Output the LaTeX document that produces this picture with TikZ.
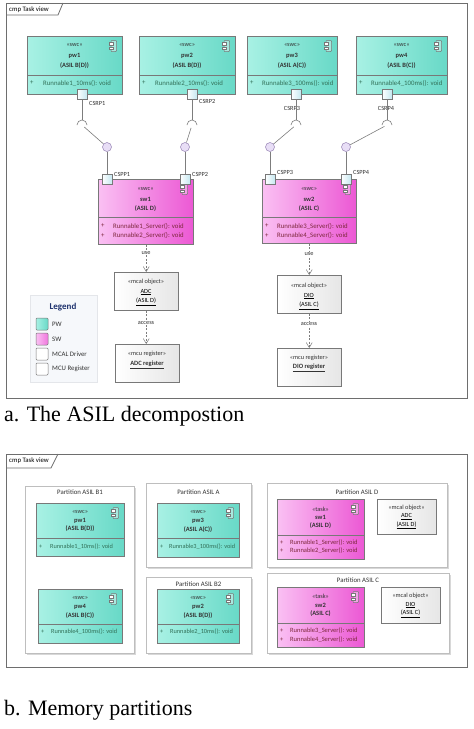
\documentclass[tikz,border=0pt]{standalone}
\usepackage{fontspec}
\setmainfont{Carlito}
\newfontfamily\capfont{Liberation Serif}
\usetikzlibrary{shadows,arrows.meta}

\definecolor{tealL}{RGB}{168,241,228}
\definecolor{tealR}{RGB}{104,217,199}
\definecolor{pinkL}{RGB}{250,192,243}
\definecolor{pinkR}{RGB}{236,88,212}
\definecolor{grayR}{RGB}{230,230,230}
\definecolor{bordergray}{RGB}{120,120,120}
\definecolor{framegray}{RGB}{110,110,110}
\definecolor{partgray}{RGB}{190,190,190}
\definecolor{wiregray}{RGB}{125,125,125}
\definecolor{portR}{RGB}{198,232,240}
\definecolor{ballfill}{RGB}{232,222,246}
\definecolor{ballborder}{RGB}{150,130,180}
\definecolor{tealtext}{RGB}{50,112,88}
\definecolor{pinktext}{RGB}{125,40,60}
\definecolor{legendfill}{RGB}{246,248,251}
\definecolor{legendborder}{RGB}{228,230,234}
\definecolor{legendblue}{RGB}{30,50,110}
\definecolor{txtgray}{RGB}{50,50,50}

\tikzset{
  myshadow/.style={drop shadow={shadow xshift=1.2pt,shadow yshift=-1.2pt,opacity=0.3}},
  pwbox/.style={draw=bordergray,line width=0.5pt,left color=tealL,right color=tealR,myshadow},
  swbox/.style={draw=bordergray,line width=0.5pt,left color=pinkL,right color=pinkR,myshadow},
  grbox/.style={draw=bordergray,line width=0.5pt,left color=white,right color=grayR,myshadow},
  partbox/.style={draw=partgray,line width=0.6pt,fill=white,myshadow},
  sepline/.style={draw=bordergray,line width=0.5pt},
  frameline/.style={draw=framegray,line width=0.8pt},
  portbox/.style={draw=bordergray,line width=0.5pt,left color=white,right color=portR,minimum size=10pt,inner sep=0pt},
  ballnode/.style={circle,draw=ballborder,line width=0.5pt,fill=ballfill,minimum size=9pt,inner sep=0pt},
  wire/.style={draw=wiregray,line width=0.6pt},
  dep/.style={draw=wiregray,line width=0.5pt,dash pattern=on 2pt off 1.5pt,-{Straight Barb[length=5pt,width=6pt]}},
  iconline/.style={draw=bordergray,line width=0.5pt},
  compicon/.pic={
    \draw[iconline,fill=white,fill opacity=0.4,rounded corners=0.8pt] (-2,-5.5) rectangle (3.5,5.5);
    \draw[iconline,fill=white] (-4,-3.4) rectangle (0,-1);
    \draw[iconline,fill=white] (-4,1) rectangle (0,3.4);
  },
  st/.style={font=\fontsize{6.3}{7}\selectfont,text=txtgray},
  nm/.style={font=\fontsize{6.5}{7}\selectfont\bfseries,text=black!80},
  rtt/.style={font=\fontsize{6.8}{7}\selectfont,text=tealtext,anchor=west},
  rtp/.style={font=\fontsize{6.8}{7}\selectfont,text=pinktext,anchor=west},
  rttb/.style={rtt,font=\fontsize{6.3}{7}\selectfont},
  rtpb/.style={rtp,font=\fontsize{6.5}{7}\selectfont},
  lbl/.style={font=\fontsize{6.3}{7}\selectfont,text=txtgray},
  ttl/.style={font=\fontsize{6.8}{7}\selectfont,text=txtgray},
  captext/.style={font=\capfont\fontsize{22}{24}\selectfont,anchor=base west,inner sep=0pt},
  swatch/.style={draw=bordergray,line width=0.5pt,rounded corners=1pt,minimum size=12pt,inner sep=0pt},
}

\newcommand\ubox[7]{%
  \node[#2,anchor=north west,minimum width=#5pt-#3pt,minimum height=#6pt-#4pt,inner sep=0pt] (#1) at (#3,#4) {};
  \draw[sepline] (#3,#7) -- (#5,#7);
  \pic at (#5-9,#4+10) {compicon};}
\newcommand\gbox[6]{%
  \node[#2,anchor=north west,minimum width=#5pt-#3pt,minimum height=#6pt-#4pt,inner sep=0pt] (#1) at (#3,#4) {};}
\newcommand\pbox[5]{%
  \node[partbox,anchor=north west,minimum width=#4pt-#2pt,minimum height=#5pt-#3pt,inner sep=0pt] (#1) at (#2,#3) {};}

\begin{document}
\begin{tikzpicture}[x=1pt,y=-1pt,every node/.style={inner sep=0pt}]
\useasboundingbox (0,0) rectangle (474,729);
\fill[white] (0,0) rectangle (474,729);

% ================= Part a =================
\draw[frameline] (6,3) rectangle (467,398);
\draw[frameline] (6,15) -- (58,15) -- (63,3);
\node[anchor=west,font=\fontsize{6.8}{7}\selectfont] (titlea) at (9,9.5) {cmp Task view};

% pw components
\ubox{pw1}{pwbox}{27}{36}{122}{94}{75}
\node[st] (pw1s) at (74.5,45) {«swc»};
\node[nm] (pw1n) at (74.5,56) {pw1};
\node[nm] (pw1a) at (74.5,66) {(ASIL B(D))};
\node[rtt] (pw1p) at (30,83) {+};
\node[rtt] (pw1r) at (43,83) {Runnable1\_10ms(): void};

\ubox{pw2}{pwbox}{139}{36}{235}{94}{75}
\node[st] (pw2s) at (187,45) {«swc»};
\node[nm] (pw2n) at (187,56) {pw2};
\node[nm] (pw2a) at (187,66) {(ASIL B(D))};
\node[rtt] (pw2p) at (142,83) {+};
\node[rtt] (pw2r) at (155,83) {Runnable2\_10ms(): void};

\ubox{pw3}{pwbox}{247}{36}{337}{94}{75}
\node[st] (pw3s) at (292,45) {«swc»};
\node[nm] (pw3n) at (292,56) {pw3};
\node[nm] (pw3a) at (292,66) {(ASIL A(C))};
\node[rtt] (pw3p) at (250,83) {+};
\node[rtt] (pw3r) at (262,83) {Runnable3\_100ms(): void};

\ubox{pw4}{pwbox}{356}{36}{447}{94}{75}
\node[st] (pw4s) at (401.5,45) {«swc»};
\node[nm] (pw4n) at (401.5,56) {pw4};
\node[nm] (pw4a) at (401.5,66) {(ASIL B(C))};
\node[rtt] (pw4p) at (359,83) {+};
\node[rtt] (pw4r) at (371,83) {Runnable4\_100ms(): void};

% sw components
\ubox{sw1}{swbox}{98}{179}{193}{244}{217}
\node[st] (sw1s) at (145.5,189) {«swc»};
\node[nm] (sw1n) at (145.5,199) {sw1};
\node[nm] (sw1a) at (145.5,209) {(ASIL D)};
\node[rtp] (sw1p1) at (101,226) {+};
\node[rtp] (sw1r1) at (113,226) {Runnable1\_Server(): void};
\node[rtp] (sw1p2) at (101,235.5) {+};
\node[rtp] (sw1r2) at (113,235.5) {Runnable2\_Server(): void};

\ubox{sw2}{swbox}{262}{179}{356}{243}{217}
\node[st] (sw2s) at (309,189) {«swc»};
\node[nm] (sw2n) at (309,199) {sw2};
\node[nm] (sw2a) at (309,209) {(ASIL C)};
\node[rtp] (sw2p1) at (265,226) {+};
\node[rtp] (sw2r1) at (277,226) {Runnable3\_Server(): void};
\node[rtp] (sw2p2) at (265,235.5) {+};
\node[rtp] (sw2r2) at (277,235.5) {Runnable4\_Server(): void};

% mcal objects and registers
\gbox{adc}{grbox}{114}{272}{178}{310}
\node[st] (adcs) at (146,282) {«mcal object»};
\node[st,text=black] (adcn) at (146,292) {\underline{ADC}};
\node[st,text=black] (adca) at (146,302) {\underline{(ASIL D)}};

\gbox{adcreg}{grbox}{115}{344}{179}{382}
\node[st] (adcrs) at (147,354) {«mcu register»};
\node[nm] (adcrn) at (147,365) {\underline{ADC register}};

\gbox{dio}{grbox}{277}{275}{341}{313}
\node[st] (dios) at (309,286) {«mcal object»};
\node[st,text=black] (dion) at (309,296) {\underline{DIO}};
\node[st,text=black] (dioa) at (309,306) {\underline{(ASIL C)}};

\gbox{dioreg}{grbox}{277}{348}{341}{386}
\node[st] (diors) at (309,358) {«mcu register»};
\node[nm] (diorn) at (309,368) {\underline{DIO register}};

% ports
\node[portbox] (csrp1) at (82,94) {};
\node[portbox] (csrp2) at (192,94) {};
\node[portbox] (csrp3) at (296,94) {};
\node[portbox] (csrp4) at (387,94) {};
\node[lbl,anchor=west] (lcsrp1) at (89,103.5) {CSRP1};
\node[lbl,anchor=west] (lcsrp2) at (199,101) {CSRP2};
\node[lbl] (lcsrp3) at (292,108) {CSRP3};
\node[lbl] (lcsrp4) at (386,108) {CSRP4};

\node[portbox] (cspp1) at (107,179) {};
\node[portbox] (cspp2) at (185,179) {};
\node[portbox] (cspp3) at (270,179) {};
\node[portbox] (cspp4) at (346,179) {};
\node[lbl,anchor=west] (lcspp1) at (114,174) {CSPP1};
\node[lbl,anchor=west] (lcspp2) at (192,174) {CSPP2};
\node[lbl,anchor=west] (lcspp3) at (277,172) {CSPP3};
\node[lbl,anchor=west] (lcspp4) at (353,172) {CSPP4};

% sockets and balls
\coordinate (sk1) at (82,125);
\coordinate (sk2) at (192,125);
\coordinate (sk3) at (296,125);
\coordinate (sk4) at (387,125);
\coordinate (sk1t) at (82,120);
\coordinate (sk2t) at (192,120);
\coordinate (sk3t) at (296,120);
\coordinate (sk4t) at (387,120);
\node[ballnode] (ball1) at (107,147) {};
\node[ballnode] (ball2) at (185,147) {};
\node[ballnode] (ball3) at (270,147) {};
\node[ballnode] (ball4) at (346,147) {};

\foreach \i in {1,2,3,4}{
  \draw[wire] (csrp\i) -- (sk\i t);
  \draw[wire] (sk\i) ++(-5,0) arc[start angle=180,end angle=360,radius=5];
  \draw[wire,shorten <=3pt] (sk\i) -- (ball\i);
  \draw[wire] (ball\i) -- (cspp\i);
}

% dependencies
\draw[dep] (sw1.south -| adc.north) -- (adc.north);
\node[lbl,fill=white,inner sep=0.6pt] (use1) at (146,253) {use};
\draw[dep] (adc.south) -- (adc.south |- adcreg.north);
\node[lbl,fill=white,inner sep=0.6pt] (acc1) at (146,323) {access};
\draw[dep] (sw2.south) -- (dio.north);
\node[lbl,fill=white,inner sep=0.6pt] (use2) at (309,254) {use};
\draw[dep] (dio.south) -- (dioreg.north);
\node[lbl,fill=white,inner sep=0.6pt] (acc2) at (309,324) {access};

% legend
\node[draw=legendborder,fill=legendfill,anchor=north west,minimum width=67pt,minimum height=87pt] (legend) at (30,295) {};
\node[font=\fontsize{9}{10}\selectfont\bfseries,text=legendblue] (legt) at (63,307) {Legend};
\node[swatch,left color=tealL,right color=tealR] (lg1) at (42,324) {};
\node[swatch,left color=pinkL,right color=pinkR!70!pinkL] (lg2) at (42,339) {};
\node[swatch,fill=white] (lg3) at (42,354) {};
\node[swatch,fill=white] (lg4) at (42,369) {};
\node[lbl,anchor=west,font=\fontsize{6.8}{7}\selectfont] (lgt1) at (52,324) {PW};
\node[lbl,anchor=west,font=\fontsize{6.8}{7}\selectfont] (lgt2) at (52,339) {SW};
\node[lbl,anchor=west,font=\fontsize{6.8}{7}\selectfont] (lgt3) at (52,354) {MCAL Driver};
\node[lbl,anchor=west,font=\fontsize{6.8}{7}\selectfont] (lgt4) at (52,369) {MCU Register};

\node[captext] (capa) at (4,421) {a. The ASIL decompostion};

% ================= Part b =================
\draw[frameline] (6,454) rectangle (467,667);
\draw[frameline] (6,468) -- (51,468) -- (58,454);
\node[anchor=west,font=\fontsize{6.8}{7}\selectfont] (titleb) at (9,461) {cmp Task view};

\pbox{pb1}{25}{486}{134}{653}
\node[ttl] (pb1t) at (80,492.5) {Partition ASIL B1};
\pbox{pa}{146}{483}{251}{567}
\node[ttl] (pat) at (198.5,492) {Partition ASIL A};
\pbox{pb2}{146}{577}{251}{653}
\node[ttl] (pb2t) at (198.5,584) {Partition ASIL B2};
\pbox{pd}{267}{483}{447}{567}
\node[ttl] (pdt) at (357,492) {Partition ASIL D};
\pbox{pc}{267}{573}{449}{653}
\node[ttl] (pct) at (358,580) {Partition ASIL C};

\ubox{bpw1}{pwbox}{36}{503}{124}{556}{538}
\node[st] (bpw1s) at (80,512) {«swc»};
\node[nm] (bpw1n) at (80,520.5) {pw1};
\node[nm] (bpw1a) at (80,529) {(ASIL B(D))};
\node[rttb] (bpw1p) at (39,547) {+};
\node[rttb] (bpw1r) at (50,547) {Runnable1\_10ms(): void};

\ubox{bpw3}{pwbox}{157}{503}{239}{557}{538}
\node[st] (bpw3s) at (198,512) {«swc»};
\node[nm] (bpw3n) at (198,521) {pw3};
\node[nm] (bpw3a) at (198,530) {(ASIL A(C))};
\node[rttb] (bpw3p) at (160,547) {+};
\node[rttb] (bpw3r) at (169,547) {Runnable3\_100ms(): void};

\ubox{bpw4}{pwbox}{38}{589}{122}{643}{624}
\node[st] (bpw4s) at (80,598) {«swc»};
\node[nm] (bpw4n) at (80,607) {pw4};
\node[nm] (bpw4a) at (80,616) {(ASIL B(C))};
\node[rttb] (bpw4p) at (41,632) {+};
\node[rttb] (bpw4r) at (51,632) {Runnable4\_100ms(): void};

\ubox{bpw2}{pwbox}{157}{589}{239}{643}{624}
\node[st] (bpw2s) at (198,598) {«swc»};
\node[nm] (bpw2n) at (198,607) {pw2};
\node[nm] (bpw2a) at (198,616) {(ASIL B(D))};
\node[rttb] (bpw2p) at (160,632) {+};
\node[rttb] (bpw2r) at (170,632) {Runnable2\_10ms(): void};

\ubox{bsw1}{swbox}{277}{499}{364}{559}{535}
\node[st] (bsw1s) at (320.5,509) {«task»};
\node[nm] (bsw1n) at (320.5,517.5) {sw1};
\node[nm] (bsw1a) at (320.5,526) {(ASIL D)};
\node[rtpb] (bsw1p1) at (280,543) {+};
\node[rtpb] (bsw1r1) at (290,543) {Runnable1\_Server(): void};
\node[rtpb] (bsw1p2) at (280,551) {+};
\node[rtpb] (bsw1r2) at (290,551) {Runnable2\_Server(): void};

\gbox{badc}{grbox}{377}{499}{436}{534}
\node[st] (badcs) at (406.5,507.5) {«mcal object»};
\node[st,text=black] (badcn) at (406.5,516.5) {\underline{ADC}};
\node[st,text=black] (badca) at (406.5,525.5) {\underline{(ASIL D)}};

\ubox{bsw2}{swbox}{277}{587}{364}{647}{623}
\node[st] (bsw2s) at (320.5,596) {«task»};
\node[nm] (bsw2n) at (320.5,605) {sw2};
\node[nm] (bsw2a) at (320.5,614) {(ASIL C)};
\node[rtpb] (bsw2p1) at (280,631) {+};
\node[rtpb] (bsw2r1) at (290,631) {Runnable3\_Server(): void};
\node[rtpb] (bsw2p2) at (280,640) {+};
\node[rtpb] (bsw2r2) at (290,640) {Runnable4\_Server(): void};

\gbox{bdio}{grbox}{381}{587}{440}{623}
\node[st] (bdios) at (410.5,596) {«mcal object»};
\node[st,text=black] (bdion) at (410.5,605) {\underline{DIO}};
\node[st,text=black] (bdioa) at (410.5,614) {\underline{(ASIL C)}};

\node[captext] (capb) at (4,715) {b. Memory partitions};
\end{tikzpicture}
\end{document}
